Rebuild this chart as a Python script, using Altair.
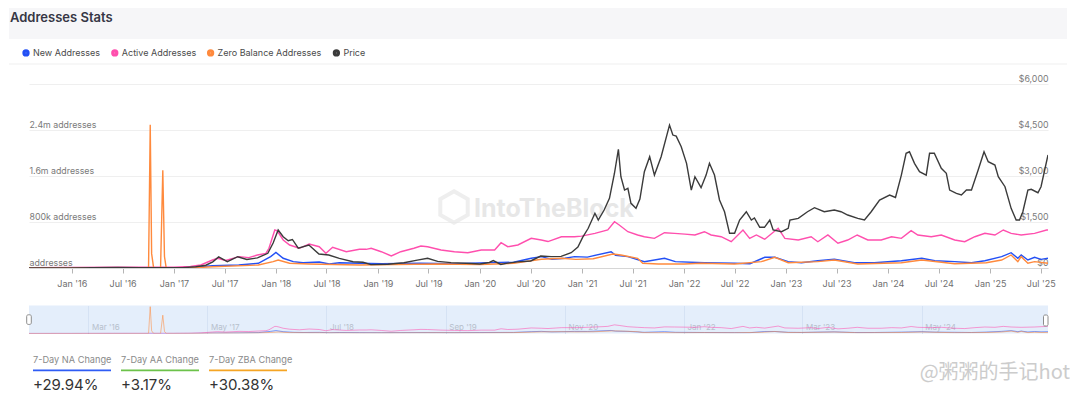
import altair as alt
import pandas as pd

# ---------------- data ----------------
series_names = ["New Addresses", "Active Addresses", "Zero Balance Addresses", "Price"]
series_colors = ["#2350f5", "#ff4fae", "#ff8a3d", "#3b3b3b"]

start_date = "2015-08-01"
end_date = "2025-07-27"

price_dates = ["2015-08-01", "2015-10-15", "2016-01-01", "2016-03-15", "2016-06-15", "2016-09-01", "2016-12-01",
               "2017-02-01", "2017-03-20", "2017-04-25", "2017-05-20", "2017-06-10", "2017-07-11", "2017-08-17",
               "2017-09-19", "2017-10-27", "2017-12-03", "2017-12-22", "2018-01-09", "2018-01-27", "2018-02-14",
               "2018-03-01", "2018-03-22", "2018-04-29", "2018-06-04", "2018-07-09", "2018-08-16", "2018-10-04",
               "2018-11-09", "2018-12-07", "2019-02-06", "2019-04-04", "2019-05-22", "2019-06-28", "2019-08-03",
               "2019-09-20", "2019-12-01", "2020-01-01", "2020-02-04", "2020-02-18", "2020-03-16", "2020-04-04",
               "2020-05-15", "2020-07-01", "2020-08-06", "2020-09-12", "2020-10-18", "2020-11-23", "2020-12-17",
               "2021-01-03", "2021-01-23", "2021-02-16", "2021-02-28", "2021-03-21", "2021-04-09", "2021-04-27",
               "2021-05-11", "2021-05-20", "2021-06-02", "2021-06-14", "2021-06-25", "2021-07-13", "2021-07-27",
               "2021-08-12", "2021-08-31", "2021-09-17", "2021-10-11", "2021-11-10", "2021-11-22", "2021-12-04",
               "2021-12-22", "2022-01-10", "2022-01-27", "2022-02-09", "2022-03-03", "2022-03-21", "2022-04-02",
               "2022-04-20", "2022-05-08", "2022-05-26", "2022-06-13", "2022-07-01", "2022-07-19", "2022-08-12",
               "2022-08-30", "2022-09-10", "2022-09-29", "2022-10-16", "2022-11-04", "2022-11-16", "2022-12-16",
               "2023-01-09", "2023-01-15", "2023-02-14", "2023-03-19", "2023-04-13", "2023-05-18", "2023-06-23",
               "2023-07-17", "2023-08-10", "2023-09-15", "2023-10-09", "2023-11-02", "2023-12-02", "2024-01-07",
               "2024-01-28", "2024-02-18", "2024-03-06", "2024-03-18", "2024-04-05", "2024-04-23", "2024-05-17",
               "2024-05-29", "2024-06-15", "2024-07-10", "2024-07-28", "2024-08-09", "2024-09-02", "2024-09-20",
               "2024-10-08", "2024-10-26", "2024-11-19", "2024-12-10", "2024-12-25", "2025-01-18", "2025-01-30",
               "2025-02-23", "2025-03-17", "2025-04-04", "2025-04-16", "2025-04-28", "2025-05-16", "2025-05-28",
               "2025-06-21", "2025-07-02", "2025-07-27"]
price_values = [3, 1, 1, 12, 16, 12, 8,
                11, 40, 90, 200, 360, 205, 368,
                277, 330, 480, 815, 1240, 1020, 890,
                930, 650, 750, 456, 424, 316, 205,
                186, 110, 120, 170, 255, 316, 215,
                175, 145, 130, 180, 240, 115, 150,
                200, 230, 390, 370, 380, 500, 680,
                1000, 1295, 1784, 1565, 1890, 2270, 3090,
                3870, 2976, 2543, 2600, 2110, 1946, 2250,
                3140, 3630, 3030, 3630, 4660, 4335, 4300,
                3955, 3413, 2543, 2976, 2620, 3030, 3413,
                3030, 2217, 1835, 1131, 1131, 1565, 1835,
                1565, 1630, 1327, 1327, 1565, 1239, 1183,
                1294, 1565, 1620, 1835, 1966, 1835, 1890,
                1835, 1728, 1620, 1565, 1835, 2217, 2380,
                2300, 3030, 3740, 3790, 3413, 3140, 3030,
                3740, 3740, 3250, 3087, 2543, 2435, 2380,
                2543, 2543, 3195, 3790, 3465, 3358, 2976,
                2650, 1946, 1565, 1565, 1835, 2543, 2565,
                2455, 2650, 3684]

# thousands of addresses
active_dates = ["2015-08-01", "2016-01-01", "2016-06-01", "2016-10-01", "2017-01-01", "2017-03-01", "2017-04-07",
                "2017-05-19", "2017-06-06", "2017-07-05", "2017-08-22", "2017-09-26", "2017-10-27", "2017-11-26",
                "2017-12-07", "2017-12-28", "2018-01-04", "2018-01-12", "2018-01-27", "2018-02-19", "2018-03-26",
                "2018-04-30", "2018-06-05", "2018-06-29", "2018-07-23", "2018-09-10", "2018-10-27", "2018-11-20",
                "2018-12-08", "2019-01-13", "2019-02-18", "2019-03-24", "2019-05-10", "2019-06-04", "2019-06-28",
                "2019-08-15", "2019-10-02", "2019-11-19", "2020-01-06", "2020-02-23", "2020-03-17", "2020-04-10",
                "2020-05-16", "2020-07-03", "2020-08-08", "2020-09-01", "2020-10-19", "2020-12-05", "2020-12-30",
                "2021-02-16", "2021-04-03", "2021-04-27", "2021-05-14", "2021-06-14", "2021-07-19", "2021-08-12",
                "2021-09-17", "2021-10-23", "2021-11-28", "2022-01-04", "2022-02-09", "2022-03-15", "2022-04-08",
                "2022-05-14", "2022-06-19", "2022-07-31", "2022-08-24", "2022-09-17", "2022-10-17", "2022-12-04",
                "2022-12-28", "2023-02-14", "2023-04-01", "2023-04-25", "2023-05-31", "2023-07-06", "2023-08-10",
                "2023-09-13", "2023-10-21", "2023-12-08", "2024-01-14", "2024-02-18", "2024-03-24", "2024-04-17",
                "2024-06-04", "2024-07-10", "2024-08-27", "2024-10-02", "2024-11-07", "2024-12-13", "2025-01-18",
                "2025-02-17", "2025-03-17", "2025-04-22", "2025-06-09", "2025-07-22", "2025-07-27"]
active_values = [5, 8, 12, 15, 15, 25, 52,
                 139, 169, 130, 197, 180, 226, 255,
                 343, 661, 650, 600, 487, 400, 343,
                 417, 370, 255, 360, 283, 325, 325,
                 343, 283, 209, 283, 343, 383, 370,
                 313, 283, 266, 313, 313, 440, 370,
                 400, 516, 487, 460, 544, 544, 555,
                 603, 661, 805, 748, 631, 574, 544,
                 516, 614, 603, 590, 574, 631, 574,
                 544, 457, 661, 516, 574, 500, 690,
                 516, 487, 544, 457, 574, 430, 487,
                 574, 487, 487, 544, 516, 649, 574,
                 544, 574, 487, 457, 544, 603, 574,
                 661, 603, 574, 603, 661, 660]

new_dates = ["2015-08-01", "2016-01-01", "2016-06-01", "2016-10-01", "2017-01-01", "2017-03-01", "2017-05-19",
             "2017-08-21", "2017-10-30", "2017-12-13", "2018-01-01", "2018-01-27", "2018-03-04", "2018-04-08",
             "2018-06-05", "2018-07-11", "2018-08-16", "2018-10-27", "2019-01-15", "2019-06-01", "2019-10-01",
             "2020-01-01", "2020-05-01", "2020-07-03", "2020-08-08", "2020-09-15", "2020-11-01", "2020-12-05",
             "2021-01-20", "2021-04-15", "2021-05-01", "2021-06-14", "2021-08-12", "2021-10-23", "2021-12-01",
             "2022-03-15", "2022-07-01", "2022-08-25", "2022-10-17", "2022-11-22", "2023-01-09", "2023-02-25",
             "2023-04-25", "2023-06-23", "2023-09-03", "2023-11-13", "2024-02-18", "2024-05-01", "2024-06-17",
             "2024-08-27", "2024-10-26", "2024-12-13", "2025-02-11", "2025-03-17", "2025-04-10", "2025-04-22",
             "2025-05-16", "2025-06-09", "2025-07-02", "2025-07-27"]
new_values = [2, 3, 5, 5, 6, 10, 40,
              52, 82, 197, 270, 169, 110, 92,
              104, 70, 92, 82, 75, 85, 75,
              90, 100, 170, 197, 150, 170, 197,
              190, 283, 220, 197, 110, 169, 110,
              92, 82, 75, 186, 186, 110, 92,
              127, 151, 92, 92, 127, 169, 127,
              110, 92, 127, 197, 266, 169, 226,
              139, 186, 151, 169]

zero_dates = ["2015-08-01", "2016-01-01", "2016-06-01", "2016-09-25", "2016-10-02", "2016-10-08", "2016-10-13",
              "2016-10-20", "2016-11-14", "2016-11-22", "2016-11-28", "2016-12-04", "2017-01-15", "2017-04-01",
              "2017-05-19", "2017-10-30", "2017-12-22", "2018-01-09", "2018-02-19", "2018-04-30", "2018-10-27",
              "2019-03-01", "2019-08-01", "2020-01-01", "2020-05-01", "2020-08-08", "2020-10-19", "2020-12-10",
              "2021-02-10", "2021-04-21", "2021-05-20", "2021-06-02", "2021-07-19", "2021-08-06", "2021-10-01",
              "2022-01-01", "2022-03-03", "2022-07-01", "2022-10-05", "2022-11-22", "2023-01-09", "2023-04-25",
              "2023-06-23", "2023-09-15", "2024-02-18", "2024-05-01", "2024-08-27", "2024-12-18", "2025-02-11",
              "2025-03-17", "2025-04-10", "2025-04-22", "2025-05-16", "2025-06-09", "2025-07-27"]
zero_values = [0.5, 1, 2, 2, 5, 2490, 250,
               5, 5, 1700, 200, 5, 3, 8,
               23, 52, 110, 139, 82, 70, 52,
               60, 70, 60, 80, 151, 169, 150,
               160, 243, 226, 214, 169, 82, 70,
               70, 82, 70, 110, 186, 92, 110,
               139, 70, 92, 139, 75, 92, 139,
               226, 110, 197, 82, 110, 82]

axis_tick_dates = ["2016-01-01", "2016-07-01", "2017-01-01", "2017-07-01", "2018-01-01", "2018-07-01",
                   "2019-01-01", "2019-07-01", "2020-01-01", "2020-07-01", "2021-01-01", "2021-07-01",
                   "2022-01-01", "2022-07-01", "2023-01-01", "2023-07-01", "2024-01-01", "2024-07-01",
                   "2025-01-01", "2025-07-01"]
nav_tick_dates = ["2016-03-01", "2017-05-01", "2018-07-01", "2019-09-01", "2020-11-01", "2022-01-01",
                  "2023-03-01", "2024-05-01"]
left_ticks = [0, 800000, 1600000, 2400000]
right_ticks = [0, 1500, 3000, 4500, 6000]

stat_labels = ["7-Day NA Change", "7-Day AA Change", "7-Day ZBA Change"]
stat_values = ["+29.94%", "+3.17%", "+30.38%"]
stat_colors = ["#2f5cf5", "#6cc24a", "#f5a524"]

chart_title = "Addresses Stats"
watermark = "IntoTheBlock"
corner_mark = "@粥粥的手记hot"


def ms(s):
    return int(pd.Timestamp(s, tz="UTC").value // 1_000_000)


def frame(dates, values, name, mult):
    return pd.DataFrame({"date": dates, "value": [v * mult for v in values], "series": name})


addr_df = pd.concat([
    frame(new_dates, new_values, "New Addresses", 1000),
    frame(active_dates, active_values, "Active Addresses", 1000),
    frame(zero_dates, zero_values, "Zero Balance Addresses", 1000),
], ignore_index=True)
price_df = frame(price_dates, price_values, "Price", 1)
stats_df = pd.DataFrame({"label": stat_labels, "value": stat_values, "color": stat_colors})
one = pd.DataFrame({"k": [0]})

W, H = 1019, 184
NAV_H = 28
BG = "#f6f6f8"
FONT = "Inter"

x_scale = alt.Scale(domain=[ms(start_date), ms(end_date)])
label_fmt = "utcFormat(datum.value, \"%b '%y\")"

x_main = alt.X("date:T", scale=x_scale, axis=alt.Axis(
    values=[ms(d) for d in axis_tick_dates], labelExpr=label_fmt, title=None, grid=False,
    domainColor="#d6d6d6", tickColor="#b5b5b5", tickSize=5, labelColor="#6f6f6f", labelFontSize=9,
    labelFont=FONT, labelPadding=6, labelFlush=False, labelOverlap=False))

legend = alt.Legend(title=None, orient="none", legendX=-7.5, legendY=-36, direction="horizontal",
                    symbolType="circle", symbolSize=16, symbolStrokeWidth=3.3, labelFontSize=9.0,
                    labelColor="#4a4a4a", labelFont=FONT, columnPadding=4.8, labelOffset=2.5, padding=0)
color = alt.Color("series:N", scale=alt.Scale(domain=series_names, range=series_colors), legend=legend)

left_axis = alt.Axis(values=left_ticks, orient="left", title=None, grid=False, domain=False, ticks=False,
                     tickSize=0, labelAlign="left", labelBaseline="alphabetic", labelPadding=0, labelOffset=-2.5,
                     labelColor="#7a7a7a", labelFontSize=8.8, labelFont=FONT, labelFlush=False,
                     labelOverlap=False, labelBound=False, zindex=0,
                     labelExpr="datum.value == 0 ? 'addresses' : (datum.value >= 1000000 ? format(datum.value/1000000, '.1f') + 'm addresses' : format(datum.value/1000, 'd') + 'k addresses')")
right_axis = alt.Axis(values=right_ticks, orient="right", title=None, grid=True, gridColor="#efefef",
                      domain=False, ticks=False, tickSize=0, labelAlign="right", labelBaseline="alphabetic",
                      labelPadding=0, labelOffset=-2.5, labelColor="#7a7a7a", labelFontSize=8.8,
                      labelFont=FONT, labelFlush=False, labelOverlap=False, labelBound=False, zindex=0,
                      labelExpr="'$' + format(datum.value, ',')")

base1 = alt.Chart(one)
topband = base1.mark_rect(fill=BG).encode(
    x=alt.value(-20), x2=alt.value(1038), y=alt.value(-76), y2=alt.value(-45))
title = base1.mark_text(align="left", baseline="alphabetic", fontSize=13, fontWeight=600, color="#363645",
                        font=FONT).encode(x=alt.value(-19), y=alt.value(-62.3), text=alt.value(chart_title))
sep = base1.mark_rule(color="#efefef", strokeWidth=1).encode(
    x=alt.value(-20), x2=alt.value(1038), y=alt.value(-20))
hexagon = "M0,-1L0.866,-0.5L0.866,0.5L0,1L-0.866,0.5L-0.866,-0.5Z"
logo = base1.mark_point(shape=hexagon, filled=False, strokeWidth=4, color="#e7e7e7", size=1000).encode(
    x=alt.value(425), y=alt.value(123))
wm = base1.mark_text(align="left", baseline="alphabetic", fontSize=25, fontWeight="bold", color="#e7e7e7",
                     font=FONT).encode(x=alt.value(445), y=alt.value(133), text=alt.value(watermark))

addr_lines = alt.Chart(addr_df).mark_line(strokeWidth=1.4, clip=True).encode(
    x=x_main,
    y=alt.Y("value:Q", scale=alt.Scale(domain=[0, 3200000], nice=False), axis=left_axis),
    color=color)
price_line = alt.Chart(price_df).mark_line(strokeWidth=1.4, clip=True).encode(
    x=x_main,
    y=alt.Y("value:Q", scale=alt.Scale(domain=[0, 6000], nice=False), axis=right_axis),
    color=color)

main = alt.layer(topband, title, sep, logo, wm, addr_lines, price_line).resolve_scale(
    y="independent").properties(width=W, height=H)

# ---------------- navigator ----------------
nav_axis = alt.Axis(values=[ms(d) for d in nav_tick_dates], labelExpr=label_fmt, title=None, grid=True,
                    gridColor="#d5e2f4", domain=False, ticks=False, tickSize=0, labelAlign="left",
                    labelBaseline="alphabetic", labelPadding=-4, labelOffset=3, labelColor="#b7c0cc",
                    labelFontSize=8, labelFont=FONT, labelFlush=False, labelOverlap=False)
nav_lines = alt.Chart(addr_df).mark_line(strokeWidth=1, opacity=0.55, clip=True).encode(
    x=alt.X("date:T", scale=x_scale, axis=nav_axis),
    y=alt.Y("value:Q", scale=alt.Scale(domain=[0, 2600000], nice=False), axis=None),
    color=alt.Color("series:N", scale=alt.Scale(domain=series_names, range=series_colors), legend=None))
h_left = alt.Chart(one).mark_rect(fill="white", stroke="#8c8c8c", strokeWidth=1, cornerRadius=1.5).encode(
    x=alt.value(-2.3), x2=alt.value(2.3), y=alt.value(9.3), y2=alt.value(18.9))
h_right = alt.Chart(one).mark_rect(fill="white", stroke="#8c8c8c", strokeWidth=1, cornerRadius=1.5).encode(
    x=alt.value(1014.5), x2=alt.value(1019), y=alt.value(9.5), y2=alt.value(20.5))
nav = alt.layer(nav_lines, h_left, h_right).properties(
    width=W, height=NAV_H, view=alt.ViewBackground(fill="#e4eefb", strokeWidth=0))

# ---------------- stats ----------------
band = alt.Scale(paddingInner=10 / 88, paddingOuter=4 / 88)
sx = alt.X("label:N", sort=stat_labels, bandPosition=0, axis=None, scale=band)
sbase = alt.Chart(stats_df)
s_lab = sbase.mark_text(align="left", baseline="alphabetic", fontSize=9.2, color="#8a8a8a", font=FONT).encode(
    x=sx, y=alt.value(-8), text="label:N")
s_line = sbase.mark_rect().encode(
    x=alt.X("label:N", sort=stat_labels, axis=None, scale=band),
    y=alt.value(-1.5), y2=alt.value(0.3), color=alt.Color("color:N", scale=None))
s_val = sbase.mark_text(align="left", baseline="alphabetic", fontSize=15, color="#333333", font=FONT).encode(
    x=sx, y=alt.value(19), text="value:N")
s_wm = alt.Chart(one).mark_text(align="right", baseline="alphabetic", fontSize=20, color="#cccccc",
                                font="Noto Sans CJK SC").encode(
    x=alt.value(1041), y=alt.value(8), text=alt.value(corner_mark))
stats = alt.layer(s_lab, s_line, s_val, s_wm).properties(width=262, height=20)

chart = alt.vconcat(main, nav, stats, spacing=37.5, bounds="flush").resolve_scale(
    color="independent").resolve_legend(color="independent").properties(
    padding=0, background="white").configure(font=FONT).configure_view(strokeWidth=0)

chart.save("out.html", embed_options={"renderer": "svg", "actions": False})
